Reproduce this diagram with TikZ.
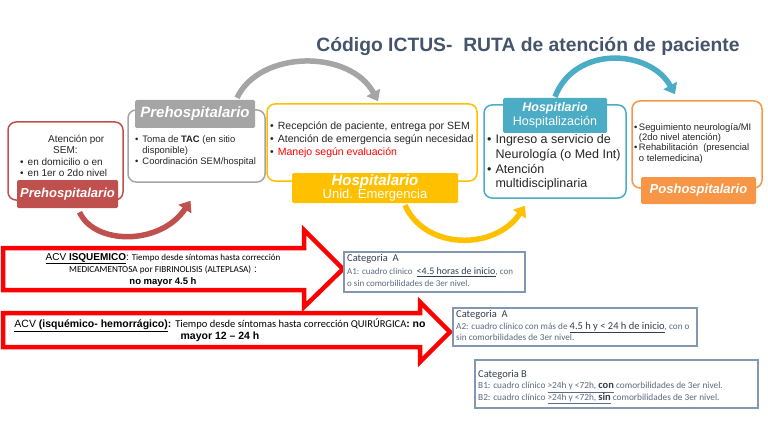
\documentclass[tikz,border=0pt]{standalone}
\usepackage{fontspec}
\setmainfont{Liberation Sans}
\newfontfamily\calib{Carlito}
\usetikzlibrary{arrows.meta}
\definecolor{rojo}{HTML}{C0504D}
\definecolor{gris}{HTML}{A5A5A5}
\definecolor{amarillo}{HTML}{FFC000}
\definecolor{azul}{HTML}{4BACC6}
\definecolor{naranja}{HTML}{F79646}
\definecolor{pizarra}{HTML}{44546A}
\definecolor{catborde}{HTML}{8497B0}
\definecolor{cattexto}{HTML}{5B6B80}
\definecolor{catoscuro}{HTML}{333F50}
\newcommand{\pto}{\textbullet\hspace{4pt}}
\newcommand{\sgd}{\phantom{\textbullet}\hspace{4pt}}

\begin{document}
\begin{tikzpicture}[x=1pt,y=-1pt,
  caja/.style={draw=#1,line width=1.5pt,rounded corners=8pt,fill=white,inner sep=0pt},
  etiq/.style={fill=#1,rounded corners=1.5pt,text=white,inner sep=0pt,align=center},
  texto/.style={anchor=north west,align=left,inner sep=0pt},
  curva/.style={draw=#1,line width=5.5pt,-{Triangle[length=10pt,width=15pt]}},
  cat/.style={draw=catborde,line width=1.2pt,fill=white,inner sep=0pt},
  bloque/.style={draw=red,line width=4.5pt,fill=white,line join=miter}]
\useasboundingbox (0,0) rectangle (768,433);
%\draw [color=gray, very thin] (0,0) grid[step=50] (768,433);

% titulo
\node [font=\fontsize{19.3}{22}\selectfont\bfseries, text=pizarra] (titulo) at (528,46) {Código ICTUS-\ \ RUTA de atención de paciente};

% cajas de la ruta
\node [caja=rojo, minimum width=115pt, minimum height=78pt] (b1) at (65.5,161) {};
\node [caja=gris, minimum width=137pt, minimum height=72pt] (b2) at (196.5,146) {};
\node [caja=amarillo, minimum width=210pt, minimum height=77pt] (b3) at (372,142.5) {};
\node [caja=azul, minimum width=142pt, minimum height=93pt] (b4) at (555,151.5) {};
\node [caja=naranja, minimum width=130pt, minimum height=87pt] (b5) at (697,144.5) {};

% textos de las cajas
\node [texto, font=\fontsize{10}{11.3}\selectfont, text=black!85] (t1) at (20,135)
  {\hspace*{28pt}Atención por\\\hspace*{33pt}SEM:\\\pto en domicilio o en\\\pto en 1er o 2do nivel};
\node [texto, font=\fontsize{9.4}{11}\selectfont, text=black!85] (t2) at (135,135.5)
  {\pto Toma de \textbf{TAC} (en sitio\\\sgd disponible)\\\pto Coordinación SEM/hospital};
\node [texto, font=\fontsize{10.5}{13}\selectfont, text=black!85] (t3) at (270,121.7)
  {\pto Recepción de paciente, entrega por SEM\\\pto Atención de emergencia según necesidad\\\pto \textcolor{red}{Manejo según evaluación}};
\node [texto, font=\fontsize{12.5}{14.7}\selectfont, text=black!85] (t4) at (487,134.5)
  {\pto Ingreso a servicio de\\\sgd Neurología (o Med Int)\\\pto Atención\\\sgd multidisciplinaria};
\node [texto, font=\fontsize{9.4}{10.3}\selectfont, text=black!85] (t5) at (634,123)
  {\textbullet\hspace{1.5pt}Seguimiento neurología/MI\\\phantom{\textbullet}\hspace{1.5pt}(2do nivel atención)\\\textbullet\hspace{1.5pt}Rehabilitación\ \ (presencial\\\phantom{\textbullet}\hspace{1.5pt}o telemedicina)};

% etiquetas
\node [etiq=rojo, minimum width=101pt, minimum height=28pt, font=\fontsize{13}{15}\selectfont\bfseries\itshape] (l1) at (67.5,194) {Prehospitalario};
\node [etiq=gris, minimum width=120pt, minimum height=28pt, font=\fontsize{15}{17}\selectfont\bfseries\itshape] (l2) at (195,114) {Prehospitalario};
\node [etiq=amarillo, minimum width=166pt, minimum height=30pt, font=\fontsize{13}{13.5}\selectfont] (l3) at (375,188) {\fontsize{15}{13.5}\selectfont\bfseries\itshape Hospitalario\\Unid. Emergencia};
\node [etiq=azul, minimum width=104pt, minimum height=35pt, font=\fontsize{12.5}{14}\selectfont] (l4) at (555,115.5) {\bfseries\itshape Hospitlario\\Hospitalización};
\node [etiq=naranja, minimum width=115pt, minimum height=27pt, font=\fontsize{13}{15}\selectfont\bfseries\itshape] (l5) at (698.5,190.5) {Poshospitalario};

% flechas curvas
\draw [curva=rojo] ([xshift=12pt,yshift=-4pt]l1.south) .. controls +(15,33) and +(-30,45) .. ([xshift=-6pt,yshift=-18pt]b2.south);
\draw [curva=gris] ([xshift=42pt,yshift=2pt]l2.north) .. controls +(23,-48) and +(-28,-52) .. ([xshift=6pt,yshift=2pt]b3.north);
\draw [curva=amarillo] ([xshift=30pt,yshift=-2pt]l3.south) .. controls +(20,45) and +(-30,45) .. ([xshift=-30pt,yshift=-7pt]b4.south);
\draw [curva=azul] ([yshift=1pt]l4.north) .. controls +(20,-52) and +(-25,-45) .. ([xshift=-22pt,yshift=6pt]b5.north);

% flechas de bloque
\draw [bloque] (3,248) -- (304,248) -- (304,230) -- (343,269) -- (304,307) -- (304,290) -- (3,290) -- cycle;
\draw [bloque] (3,313) -- (420,313) -- (420,302) -- (450,332) -- (420,362) -- (420,347) -- (3,347) -- cycle;

\node [align=center, inner sep=0pt, text=black] (f1) at (163,269.5)
  {\fontsize{10}{12}\selectfont\underline{ACV \textbf{ISQUEMICO}}:\ {\calib\fontsize{9}{12}\selectfont Tiempo desde síntomas hasta corrección}\\
   {\calib\fontsize{9.2}{11.5}\selectfont MEDICAMENTOSA por FIBRINOLISIS (ALTEPLASA)} :\\
   \fontsize{9.5}{11}\selectfont\bfseries no mayor 4.5 h};
\node [align=center, inner sep=0pt, text=black] (f2) at (220,330.5)
  {\fontsize{10.5}{13}\selectfont\underline{ACV \textbf{(isquémico- hemorrágico)}}\textbf{:} {\calib\fontsize{10.5}{13}\selectfont Tiempo desde síntomas hasta corrección QUIRÚRGICA}\textbf{: no}\\
   \fontsize{10.5}{13}\selectfont\bfseries mayor 12 – 24 h};

% categorias
\node [cat, minimum width=181pt, minimum height=40pt] (cA1) at (434.5,272) {};
\node [cat, minimum width=244pt, minimum height=38pt] (cA2) at (575,327) {};
\node [cat, minimum width=283pt, minimum height=48pt] (cB) at (616.5,384) {};

\node [texto, font=\calib\fontsize{9}{12.5}\selectfont, text=cattexto] (tA1) at (347,254.5)
  {{\fontsize{10.5}{12.5}\selectfont\color{catoscuro}Categoria\ \ A}\\
   A1: cuadro clínico\ \ {\fontsize{10}{12.5}\selectfont\color{catoscuro}\underline{<4.5 horas de inicio}}, con\\
   o sin comorbilidades de 3er nivel.};
\node [texto, font=\calib\fontsize{9.2}{11.5}\selectfont, text=cattexto] (tA2) at (456,310.5)
  {{\fontsize{10.5}{11.5}\selectfont\color{catoscuro}Categoria\ \ A}\\
   A2: cuadro clínico con más de {\fontsize{10.5}{11.5}\selectfont\color{catoscuro}\underline{4.5 h y < 24 h de inicio}}, con o\\
   sin comorbilidades de 3er nivel.};
\node [texto, font=\calib\fontsize{9.3}{11.5}\selectfont, text=cattexto] (tB) at (478,370)
  {{\fontsize{10.5}{11.5}\selectfont\color{catoscuro}Categoria B}\\
   B1: cuadro clínico \underline{>24h y <72h, {\fontsize{10.5}{11.5}\selectfont\bfseries\color{catoscuro}con}} comorbilidades de 3er nivel.\\
   B2: cuadro clínico \underline{>24h y <72h, {\fontsize{10.5}{11.5}\selectfont\bfseries\color{catoscuro}sin}} comorbilidades de 3er nivel.};
\end{tikzpicture}
\end{document}
